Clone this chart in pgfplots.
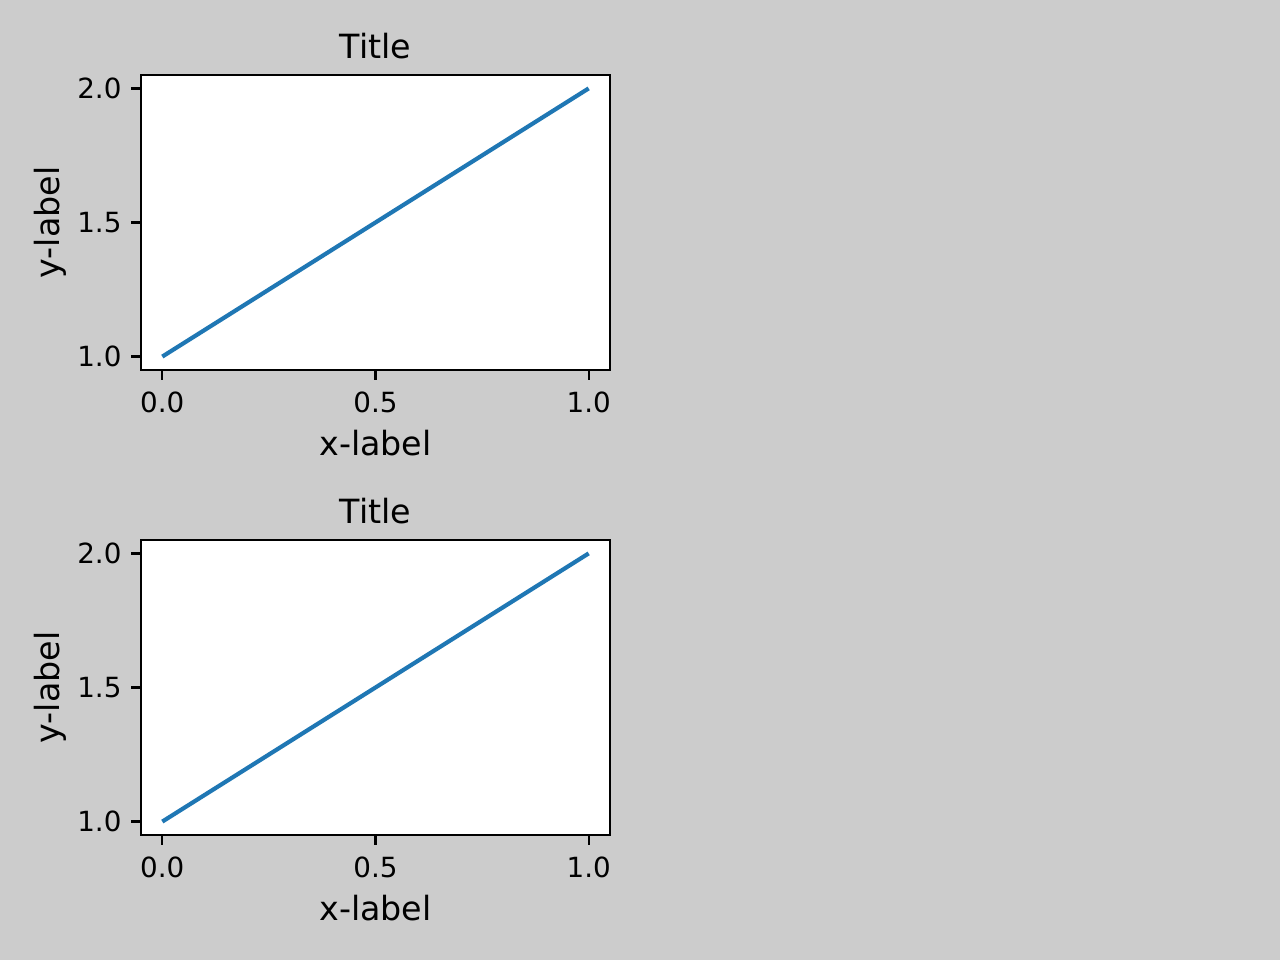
\documentclass[border=0pt]{standalone}
\usepackage{fontspec}
\setmainfont{DejaVu Sans}
\usepackage{pgfplots}
\pgfplotsset{compat=1.18}
\definecolor{bgc}{HTML}{CCCCCC}
\definecolor{c0}{HTML}{1F77B4}
\pgfplotsset{
  myax/.style={
    scale only axis, width=168.84pt, height=106.2pt,
    xmin=-0.05, xmax=1.05, ymin=0.95, ymax=2.05,
    axis background/.style={fill=white},
    axis line style={line width=0.8pt, black},
    tick align=outside, major tick length=3.5pt,
    every tick/.style={line width=0.8pt, black},
    xtick={0,0.5,1}, ytick={1,1.5,2},
    xtick pos=bottom, ytick pos=left,
    /pgf/number format/assume math mode=true,
    /pgf/number format/.cd, fixed, fixed zerofill, precision=1, /pgfplots/.cd,
    ticklabel style={font=\fontsize{10}{12}\selectfont},
    xticklabel style={yshift=-1pt},
    label style={font=\fontsize{12}{14}\selectfont},
    xlabel style={at={(ticklabel cs:0.5,-0.7pt)}},
    ylabel style={at={(ticklabel cs:0.5,-3pt)}},
    title style={font=\fontsize{12}{14}\selectfont, yshift=-3.8pt},
    xlabel={x-label}, ylabel={y-label}, title={Title},
  }
}
\begin{document}
\begin{tikzpicture}
\fill[bgc] (0,0) rectangle (460.8pt,345.6pt);
\useasboundingbox (0,0) rectangle (460.8pt,345.6pt);
\begin{axis}[myax, at={(50.76pt,212.4pt)}, anchor=south west]
\addplot[c0, line width=1.5pt] coordinates {(0,1) (1,2)};
\end{axis}
\begin{axis}[myax, at={(50.76pt,45pt)}, anchor=south west]
\addplot[c0, line width=1.5pt] coordinates {(0,1) (1,2)};
\end{axis}
\end{tikzpicture}
\end{document}
